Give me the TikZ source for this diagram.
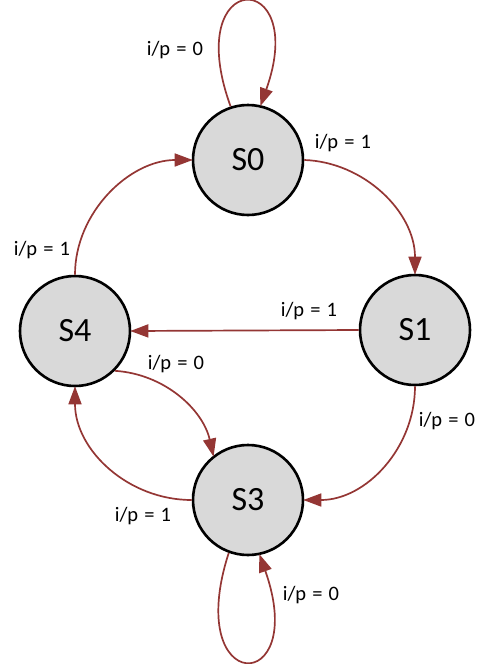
\documentclass[tikz,border=0pt]{standalone}
\usepackage{fontspec}
\setmainfont{Carlito}
\usetikzlibrary{arrows.meta}
\definecolor{edgered}{HTML}{943634}
\definecolor{stategray}{HTML}{D9D9D9}
\newcommand\lblfontsetup{\fontsize{20.5}{24}\selectfont\spaceskip 0.3em\relax}
\begin{document}
\begin{tikzpicture}[x=1pt,y=-1pt,
  state/.style={circle,draw=black,fill=stategray,line width=2.6pt,minimum size=110pt,inner sep=0pt,font=\fontsize{34}{38}\selectfont},
  lbl/.style={inner sep=0pt,font=\lblfontsetup},
  edge/.style={draw=edgered,line width=1.7pt,-{Triangle[length=18pt,width=13pt]},shorten >=-1pt}]
\useasboundingbox (0,0) rectangle (492,664);
\node[state] (S0) at (248,160) {S0};
\node[state] (S1) at (415,330) {S1};
\node[state] (S4) at (75,331) {S4};
\node[state] (S3) at (248,500) {S3};
% edges
\draw[edge] (S0.108) .. controls (180,-33) and (310,-33) .. (S0.77);
\draw[edge] (S0.east) .. controls (364,162) and (415,212) .. (S1.north);
\draw[edge] (S1.west) -- (S4.east);
\draw[edge] (S4.north) .. controls (75,212) and (130,160) .. (S0.west);
\draw[edge] (S4.-45) .. controls (165,374) and (203,410) .. (S3.128);
\draw[edge] (S3.west) .. controls (128,500) and (75,450) .. (S4.south);
\draw[edge] (S1.south) .. controls (415,448) and (366,500) .. (S3.east);
\draw[edge] (S3.-110) .. controls (182,697) and (310,697) .. (S3.-78);
% labels
\node[lbl] (l00) at (175,50) {i/p = 0};
\node[lbl] (l01) at (343,143) {i/p = 1};
\node[lbl] (l40) at (42,250) {i/p = 1};
\node[lbl] (l14) at (309,311) {i/p = 1};
\node[lbl] (l43) at (176,364) {i/p = 0};
\node[lbl] (l34) at (143,516) {i/p = 1};
\node[lbl] (l13) at (447,421) {i/p = 0};
\node[lbl] (l33) at (311,595) {i/p = 0};
\end{tikzpicture}
\end{document}
